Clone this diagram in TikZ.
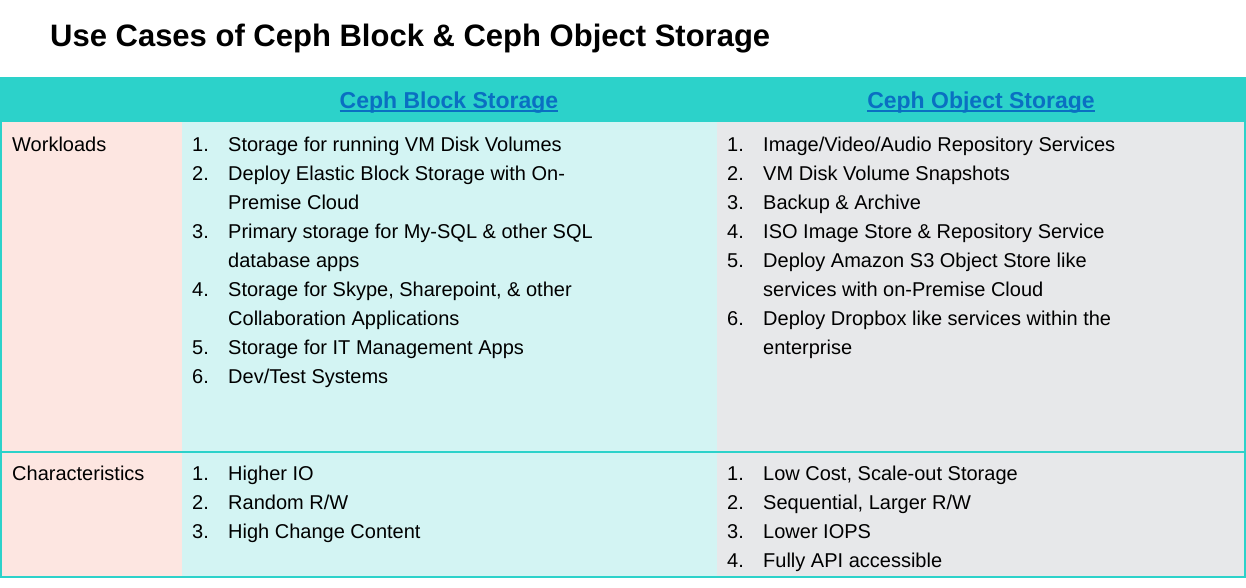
\documentclass[tikz,border=0pt]{standalone}
\usepackage{fontspec}
\setmainfont{Liberation Sans}
\definecolor{teal1}{HTML}{2CD2CA}
\definecolor{pink1}{HTML}{FDE6E1}
\definecolor{cyan1}{HTML}{D3F4F3}
\definecolor{grey1}{HTML}{E7E8EA}
\definecolor{hdr}{HTML}{0A6FC2}
\newcommand\myitem[5]{\node[txt] (#1n) at (#3,#4) {#2}; \node[txt] (#1t) at (#3+36,#4) {#5};}
\begin{document}
\begin{tikzpicture}[x=1pt,y=-1pt,
  txt/.style={anchor=base west,inner sep=0pt,font=\fontsize{20}{24}\selectfont},
  hd/.style={anchor=base,inner sep=0pt,font=\fontsize{23}{27}\selectfont\bfseries,text=hdr}]
\useasboundingbox (0,0) rectangle (1246,587);
\fill[white] (0,0) rectangle (1246,587);
\node[anchor=base west,inner sep=0pt,font=\fontsize{31}{36}\selectfont\bfseries] (title) at (50,46) {Use Cases of Ceph Block \& Ceph Object Storage};
\fill[teal1] (1,78) rectangle (1245,122);
\fill[pink1] (1,122) rectangle (182,577);
\fill[cyan1] (182,122) rectangle (717,577);
\fill[grey1] (717,122) rectangle (1245,577);
\draw[teal1,line width=1.2] (1,78) rectangle (1245,577);
\draw[teal1,line width=1.2] (1,452) -- (1245,452);
\node[hd] (h1) at (449,108) {Ceph Block Storage};
\node[hd] (h2) at (981,108) {Ceph Object Storage};
\draw[hdr,line width=1.6] ([yshift=-3pt]h1.base west) -- ([yshift=-3pt]h1.base east);
\draw[hdr,line width=1.6] ([yshift=-3pt]h2.base west) -- ([yshift=-3pt]h2.base east);
\node[txt] (w) at (12,151) {Workloads};
\node[txt] (c) at (12,480) {Characteristics};
\myitem{b1}{1.}{192}{151}{Storage for running VM Disk Volumes}
\myitem{b2}{2.}{192}{180}{Deploy Elastic Block Storage with On-}
\myitem{b2b}{}{192}{209}{Premise Cloud}
\myitem{b3}{3.}{192}{238}{Primary storage for My-SQL \& other SQL}
\myitem{b3b}{}{192}{267}{database apps}
\myitem{b4}{4.}{192}{296}{Storage for Skype, Sharepoint, \& other}
\myitem{b4b}{}{192}{325}{Collaboration Applications}
\myitem{b5}{5.}{192}{354}{Storage for IT Management Apps}
\myitem{b6}{6.}{192}{383}{Dev/Test Systems}
\myitem{bc1}{1.}{192}{480}{Higher IO}
\myitem{bc2}{2.}{192}{509}{Random R/W}
\myitem{bc3}{3.}{192}{538}{High Change Content}
\myitem{o1}{1.}{727}{151}{Image/Video/Audio Repository Services}
\myitem{o2}{2.}{727}{180}{VM Disk Volume Snapshots}
\myitem{o3}{3.}{727}{209}{Backup \& Archive}
\myitem{o4}{4.}{727}{238}{ISO Image Store \& Repository Service}
\myitem{o5}{5.}{727}{267}{Deploy Amazon S3 Object Store like}
\myitem{o5b}{}{727}{296}{services with on-Premise Cloud}
\myitem{o6}{6.}{727}{325}{Deploy Dropbox like services within the}
\myitem{o6b}{}{727}{354}{enterprise}
\myitem{oc1}{1.}{727}{480}{Low Cost, Scale-out Storage}
\myitem{oc2}{2.}{727}{509}{Sequential, Larger R/W}
\myitem{oc3}{3.}{727}{538}{Lower IOPS}
\myitem{oc4}{4.}{727}{567}{Fully API accessible}
\end{tikzpicture}
\end{document}
